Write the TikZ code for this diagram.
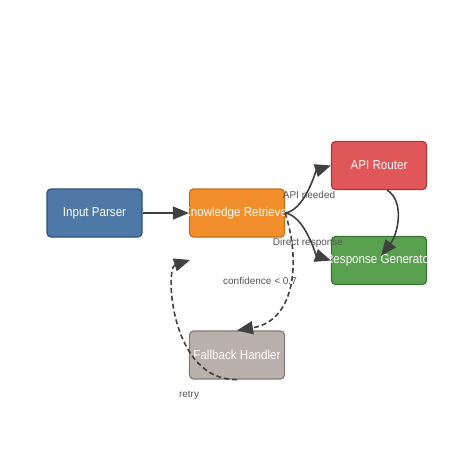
\documentclass[tikz,border=0pt]{standalone}
\usepackage{fontspec}
\setmainfont{Liberation Sans}
\newfontfamily\agentfont{Liberation Sans}[FakeStretch=0.9]
\usetikzlibrary{arrows.meta,positioning}
\definecolor{parserfill}{HTML}{4E79A7}
\definecolor{parserline}{HTML}{30507A}
\definecolor{retrfill}{HTML}{F28E2B}
\definecolor{retrline}{HTML}{C46E1A}
\definecolor{routerfill}{HTML}{E15759}
\definecolor{routerline}{HTML}{A8383A}
\definecolor{genfill}{HTML}{59A14F}
\definecolor{genline}{HTML}{3A7533}
\definecolor{fallfill}{HTML}{BAB0AC}
\definecolor{fallline}{HTML}{857A77}
\definecolor{edgecol}{HTML}{404040}
\definecolor{lblcol}{HTML}{555555}
\newcommand{\agenttext}[1]{\makebox[0pt]{#1}}

\begin{document}
\begin{tikzpicture}[x=1pt,y=-1pt,
  agent/.style={rectangle,rounded corners=4pt,line width=1.2pt,minimum width=95pt,
    minimum height=48pt,text=white,font=\agentfont\fontsize{12.9}{14}\selectfont,inner sep=0pt},
  flow/.style={edgecol,line width=1.6pt,-{Triangle[length=16pt,width=13pt]}},
  retryflow/.style={flow,dash pattern=on 5pt off 3pt},
  lbl/.style={text=lblcol,font=\fontsize{10}{12}\selectfont,inner sep=0pt}]
\useasboundingbox (0,0) rectangle (474,474);
\node[agent,fill=parserfill,draw=parserline] (parser) at (94.5,213) {\agenttext{Input Parser}};
\node[agent,fill=retrfill,draw=retrline] (retriever) at (237,213) {\agenttext{Knowledge Retriever}};
\node[agent,fill=routerfill,draw=routerline] (router) at (379,165.5) {\agenttext{API Router}};
\node[agent,fill=genfill,draw=genline] (generator) at (379,260.5) {\agenttext{Response Generator}};
\node[agent,fill=fallfill,draw=fallline] (fallback) at (237,355) {\agenttext{Fallback Handler}};
\coordinate (retryend) at (190,260);

\draw[flow] (parser.east) -- (retriever.west);
\draw[flow] (retriever.east) .. controls +(20,-3) and +(-15,5) .. (router.west);
\draw[flow] (retriever.east) .. controls +(20,3) and +(-15,-5) .. (generator.west);
\draw[flow] ([xshift=8pt]router.south) .. controls +(18,11) and +(17,-22) .. ([xshift=2pt,yshift=-20pt]generator.north);
\draw[retryflow] (retriever.east) .. controls +(15,45) and +(60,-10) .. (fallback.north);
\draw[retryflow] (fallback.south) .. controls +(-67,1) and +(-25,8) .. (retryend);

\node[lbl] (lblapi) at (309,195) {API needed};
\node[lbl] (lbldirect) at (308,243) {Direct response};
\node[lbl] (lblconf) at (260,281) {confidence < 0.7};
\node[lbl] (lblretry) at (189,395) {retry};
\end{tikzpicture}
\end{document}
